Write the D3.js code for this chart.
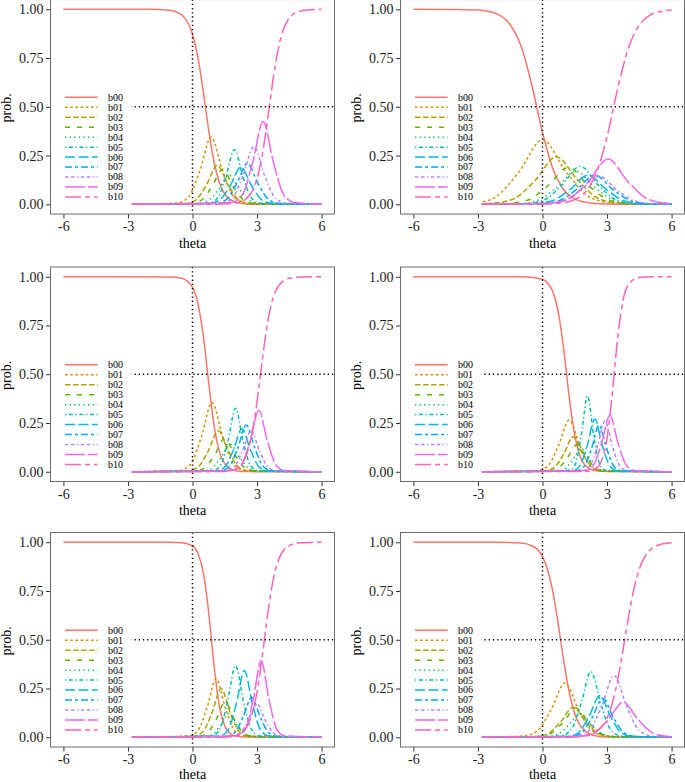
<!DOCTYPE html>
<html lang="en">
<head>
<meta charset="utf-8">
<title>Category response curves</title>
<script src="https://cdn.jsdelivr.net/npm/d3@7/dist/d3.min.js"></script>
<style>
  body { margin: 0; background: #fff; }
  text { font-family: "Liberation Serif", "Times New Roman", Times, serif; }
</style>
</head>
<body>
<script>

// categories, colours (ggplot hue palette) and line types
var categories = ["b00", "b01", "b02", "b03", "b04", "b05", "b06", "b07", "b08", "b09", "b10"];
var colors = ["#F8766D", "#DB8E00", "#AEA200", "#64B200", "#00BD5C", "#00C1A7",
              "#00BADE", "#00A6FF", "#B385FF", "#EF67EB", "#FF63B6"];
var dashes = [null, "2.6,2.6", "5.5,2.5", "5,7", "1.3,3.3", "1.3,2.6,4,2.6",
              "10,3.5", "7,3,3,3", "3.5,2.5,3.5,2.5,1.3,2.5", "20,3", "16,4,5,4"];

var xTicks = [-6, -3, 0, 3, 6];
var yTicks = [0, 0.25, 0.5, 0.75, 1];

// [theta, prob], one array per category b00..b10
var panel1 = [
  [[-6,1],[-2,1],[-1,0.994],[-0.5,0.971],[0,0.872],[0.25,0.754],[0.5,0.579],[0.75,0.382],[1,0.217],[1.25,0.111],[1.5,0.053],[2,0.011],[2.5,0.002],[3,0],[6,0]],
  [[-3,0],[-0.705,0.007],[-0.18,0.038],[0.345,0.173],[0.87,0.345],[1.395,0.173],[1.92,0.038],[2.445,0.007],[6,0]],
  [[-3,0],[-0.35,0.004],[0.15,0.022],[0.65,0.1],[1.15,0.2],[1.65,0.1],[2.15,0.022],[2.65,0.004],[6,0]],
  [[-3,0],[-0.1,0.004],[0.4,0.02],[0.9,0.09],[1.4,0.18],[1.9,0.09],[2.4,0.02],[2.9,0.004],[6,0]],
  [[-3,0],[0.2,0.003],[0.7,0.017],[1.2,0.075],[1.7,0.15],[2.2,0.075],[2.7,0.017],[3.2,0.003],[6,0]],
  [[-3,0],[0.75,0.006],[1.15,0.031],[1.55,0.14],[1.95,0.28],[2.35,0.14],[2.75,0.031],[3.15,0.006],[6,0]],
  [[-3,0],[0.75,0.004],[1.25,0.021],[1.75,0.095],[2.25,0.19],[2.75,0.095],[3.25,0.021],[3.75,0.004],[6,0]],
  [[-3,0],[1.05,0.004],[1.55,0.023],[2.05,0.105],[2.55,0.21],[3.05,0.105],[3.55,0.023],[4.05,0.004],[6,0]],
  [[-3,0],[1.35,0.006],[1.85,0.032],[2.35,0.148],[2.85,0.295],[3.35,0.148],[3.85,0.032],[4.35,0.006],[6,0]],
  [[-3,0],[1.825,0.009],[2.31,0.047],[2.795,0.213],[3.28,0.425],[3.765,0.213],[4.25,0.047],[4.735,0.009],[6,0]],
  [[-3,0],[1,0.0002],[2,0.0056],[2.5,0.0285],[2.75,0.0625],[3,0.132],[3.25,0.258],[3.5,0.443],[3.75,0.644],[4,0.805],[4.25,0.904],[4.5,0.956],[5,0.991],[5.5,0.998],[6,0.9997]]
];

var panel2 = [
  [[-6,1],[-4,0.9994],[-3,0.9958],[-2.5,0.9886],[-2,0.97],[-1.5,0.921],[-1,0.812],[-0.5,0.613],[0,0.368],[0.5,0.177],[1,0.073],[1.5,0.028],[2,0.0106],[3,0.0014],[4,0.0002],[6,0]],
  [[-3,0.008],[-2.2,0.036],[-1.1,0.165],[0,0.33],[1.1,0.165],[2.2,0.036],[3.3,0.007],[6,0]],
  [[-3,0.002],[-2.35,0.005],[-1.35,0.027],[-0.35,0.122],[0.65,0.244],[1.65,0.122],[2.65,0.027],[3.65,0.005],[6,0]],
  [[-3,0],[-1.65,0.004],[-0.7,0.021],[0.25,0.095],[1.2,0.19],[2.15,0.095],[3.1,0.021],[4.05,0.004],[6,0]],
  [[-3,0],[-1.15,0.003],[-0.25,0.019],[0.65,0.085],[1.55,0.17],[2.45,0.085],[3.35,0.019],[4.25,0.003],[6,0]],
  [[-3,0],[-0.8,0.004],[0.05,0.021],[0.9,0.098],[1.75,0.195],[2.6,0.098],[3.45,0.021],[4.3,0.004],[6,0]],
  [[-3,0],[-0.43,0.003],[0.42,0.017],[1.27,0.075],[2.12,0.15],[2.97,0.075],[3.82,0.017],[4.67,0.003],[6,0]],
  [[-3,0],[-0.12,0.003],[0.73,0.017],[1.58,0.075],[2.43,0.15],[3.28,0.075],[4.13,0.017],[4.98,0.003],[6,0]],
  [[-3,0],[0.07,0.003],[0.92,0.016],[1.77,0.073],[2.62,0.145],[3.47,0.073],[4.32,0.016],[5.17,0.003],[6,0]],
  [[-3,0],[0.275,0.005],[1.2,0.026],[2.125,0.116],[3.05,0.232],[3.975,0.116],[4.9,0.026],[5.825,0.005],[6,0.004]],
  [[-3,0],[0,0.001],[1,0.009],[1.5,0.024],[2,0.064],[2.5,0.16],[3,0.346],[3.5,0.596],[4,0.804],[4.5,0.92],[5,0.97],[5.5,0.989],[6,0.996]]
];

var panel3 = [
  [[-6,1],[-1,0.9989],[-0.5,0.992],[0,0.945],[0.25,0.863],[0.5,0.698],[0.75,0.46],[1,0.239],[1.25,0.103],[1.5,0.041],[2,0.0057],[2.5,0.0008],[3,0.0001],[6,0]],
  [[-3,0],[-0.59,0.007],[-0.09,0.039],[0.41,0.178],[0.91,0.355],[1.41,0.178],[1.91,0.039],[2.41,0.007],[6,0]],
  [[-3,0],[-0.225,0.004],[0.25,0.023],[0.725,0.105],[1.2,0.21],[1.675,0.105],[2.15,0.023],[2.625,0.004],[6,0]],
  [[-3,0],[0.075,0.003],[0.55,0.019],[1.025,0.085],[1.5,0.17],[1.975,0.085],[2.45,0.019],[2.925,0.003],[6,0]],
  [[-3,0],[0.4,0.003],[0.85,0.015],[1.3,0.07],[1.75,0.14],[2.2,0.07],[2.65,0.015],[3.1,0.003],[6,0]],
  [[-3,0],[0.98,0.007],[1.32,0.036],[1.66,0.163],[2,0.326],[2.34,0.163],[2.68,0.036],[3.02,0.007],[6,0]],
  [[-3,0],[1.1,0.004],[1.5,0.024],[1.9,0.11],[2.3,0.22],[2.7,0.11],[3.1,0.024],[3.5,0.004],[6,0]],
  [[-3,0],[1.3,0.005],[1.7,0.026],[2.1,0.12],[2.5,0.24],[2.9,0.12],[3.3,0.026],[3.7,0.005],[6,0]],
  [[-3,0],[1.52,0.004],[1.92,0.023],[2.32,0.105],[2.72,0.21],[3.12,0.105],[3.52,0.023],[3.92,0.004],[6,0]],
  [[-3,0],[1.88,0.006],[2.28,0.035],[2.68,0.158],[3.08,0.315],[3.48,0.158],[3.88,0.035],[4.28,0.006],[6,0]],
  [[-3,0],[1,0.0004],[1.5,0.0025],[2,0.015],[2.5,0.085],[2.75,0.186],[3,0.359],[3.25,0.58],[3.5,0.772],[3.75,0.893],[4,0.954],[4.5,0.992],[5,0.9987],[6,1]]
];

var panel4 = [
  [[-6,1],[-1,0.9997],[0,0.9875],[0.25,0.967],[0.5,0.918],[0.75,0.808],[1,0.615],[1.25,0.376],[1.5,0.185],[1.75,0.079],[2,0.031],[2.5,0.0046],[3,0.0007],[6,0]],
  [[-3,0],[-0.26,0.005],[0.24,0.029],[0.74,0.133],[1.24,0.266],[1.74,0.133],[2.24,0.029],[2.74,0.005],[6,0]],
  [[-3,0],[0.08,0.004],[0.53,0.02],[0.98,0.09],[1.43,0.18],[1.88,0.09],[2.33,0.02],[2.78,0.004],[6,0]],
  [[-3,0],[0.25,0.003],[0.7,0.015],[1.15,0.07],[1.6,0.14],[2.05,0.07],[2.5,0.015],[2.95,0.003],[6,0]],
  [[-3,0],[0.6,0.002],[1,0.013],[1.4,0.06],[1.8,0.12],[2.2,0.06],[2.6,0.013],[3,0.002],[6,0]],
  [[-3,0],[1.265,0.008],[1.54,0.043],[1.815,0.195],[2.09,0.389],[2.365,0.195],[2.64,0.043],[2.915,0.008],[6,0]],
  [[-3,0],[1.38,0.005],[1.73,0.03],[2.08,0.135],[2.43,0.27],[2.78,0.135],[3.13,0.03],[3.48,0.005],[6,0]],
  [[-3,0],[1.58,0.005],[1.93,0.026],[2.28,0.12],[2.63,0.24],[2.98,0.12],[3.33,0.026],[3.68,0.005],[6,0]],
  [[-3,0],[1.85,0.005],[2.2,0.029],[2.55,0.13],[2.9,0.26],[3.25,0.13],[3.6,0.029],[3.95,0.005],[6,0]],
  [[-3,0],[1.975,0.006],[2.36,0.032],[2.745,0.145],[3.13,0.29],[3.515,0.145],[3.9,0.032],[4.285,0.006],[6,0]],
  [[-3,0],[2,0.0017],[2.5,0.018],[2.75,0.058],[3,0.171],[3.25,0.406],[3.5,0.694],[3.75,0.883],[4,0.962],[4.5,0.9964],[5,0.9997],[6,1]]
];

var panel5 = [
  [[-6,1],[-1,0.9998],[-0.5,0.998],[0,0.981],[0.25,0.944],[0.5,0.847],[0.75,0.642],[1,0.368],[1.25,0.159],[1.5,0.058],[1.75,0.0196],[2,0.0064],[2.5,0.0007],[3,0.0001],[6,0]],
  [[-3,0],[-0.19,0.006],[0.24,0.033],[0.67,0.15],[1.1,0.3],[1.53,0.15],[1.96,0.033],[2.39,0.006],[6,0]],
  [[-3,0],[0.055,0.005],[0.48,0.028],[0.905,0.125],[1.33,0.25],[1.755,0.125],[2.18,0.028],[2.605,0.005],[6,0]],
  [[-3,0],[0.245,0.004],[0.67,0.02],[1.095,0.09],[1.52,0.18],[1.945,0.09],[2.37,0.02],[2.795,0.004],[6,0]],
  [[-3,0],[0.5,0.002],[0.9,0.013],[1.3,0.06],[1.7,0.12],[2.1,0.06],[2.5,0.013],[2.9,0.002],[6,0]],
  [[-3,0],[0.89,0.007],[1.26,0.04],[1.63,0.184],[2,0.367],[2.37,0.184],[2.74,0.04],[3.11,0.007],[6,0]],
  [[-3,0],[1.285,0.007],[1.66,0.038],[2.035,0.171],[2.41,0.342],[2.785,0.171],[3.16,0.038],[3.535,0.007],[6,0]],
  [[-3,0],[1.55,0.004],[1.95,0.023],[2.35,0.103],[2.75,0.205],[3.15,0.103],[3.55,0.023],[3.95,0.004],[6,0]],
  [[-3,0],[1.79,0.003],[2.19,0.019],[2.59,0.085],[2.99,0.17],[3.39,0.085],[3.79,0.019],[4.19,0.003],[6,0]],
  [[-3,0],[2.11,0.008],[2.47,0.043],[2.83,0.197],[3.19,0.393],[3.55,0.197],[3.91,0.043],[4.27,0.008],[6,0]],
  [[-3,0],[1,0.0003],[1.5,0.0016],[2,0.0091],[2.5,0.05],[2.75,0.113],[3,0.233],[3.25,0.422],[3.5,0.636],[3.75,0.808],[4,0.91],[4.5,0.983],[5,0.997],[6,1]]
];

var panel6 = [
  [[-6,1],[-2,0.9998],[-1,0.996],[-0.5,0.982],[0,0.926],[0.25,0.854],[0.5,0.735],[0.75,0.567],[1,0.382],[1.25,0.226],[1.5,0.121],[2,0.03],[2.5,0.0068],[3,0.0015],[6,0]],
  [[-3,0],[-0.91,0.006],[-0.26,0.031],[0.39,0.139],[1.04,0.278],[1.69,0.139],[2.34,0.031],[2.99,0.006],[6,0]],
  [[-3,0],[-0.37,0.003],[0.23,0.017],[0.83,0.077],[1.43,0.154],[2.03,0.077],[2.63,0.017],[3.23,0.003],[6,0]],
  [[-3,0],[-0.25,0.003],[0.35,0.017],[0.95,0.075],[1.55,0.15],[2.15,0.075],[2.75,0.017],[3.35,0.003],[6,0]],
  [[-3,0],[0.1,0.002],[0.65,0.013],[1.2,0.06],[1.75,0.12],[2.3,0.06],[2.85,0.013],[3.4,0.002],[6,0]],
  [[-3,0],[0.855,0.007],[1.32,0.037],[1.785,0.169],[2.25,0.337],[2.715,0.169],[3.18,0.037],[3.645,0.007],[6,0]],
  [[-3,0],[1.16,0.004],[1.66,0.023],[2.16,0.107],[2.66,0.213],[3.16,0.107],[3.66,0.023],[4.16,0.004],[6,0]],
  [[-3,0],[1.3,0.004],[1.8,0.022],[2.3,0.1],[2.8,0.2],[3.3,0.1],[3.8,0.022],[4.3,0.004],[6,0]],
  [[-3,0],[1.59,0.006],[2.17,0.035],[2.75,0.158],[3.33,0.316],[3.91,0.158],[4.49,0.035],[5.07,0.006],[6,0]],
  [[-3,0],[1.65,0.004],[2.35,0.02],[3.05,0.09],[3.75,0.18],[4.45,0.09],[5.15,0.02],[5.85,0.004],[6,0.003]],
  [[-3,0],[1,0.0005],[1.5,0.0019],[2,0.0073],[2.5,0.0275],[3,0.098],[3.25,0.177],[3.5,0.297],[3.75,0.453],[4,0.619],[4.25,0.761],[4.5,0.862],[5,0.96],[5.5,0.9894],[6,0.9972]]
];

var panels = [panel1, panel2, panel3, panel4, panel5, panel6];

// layout
var w = 685, h = 782;
var pw = 284, ph = 214.5;
var colLeft = [50.5, 400.5];
var rowTop = [-0.45, 267, 532.5];
var lw = 1.5;

var svg = d3.select("body")
  .append("svg")
  .attr("width", w)
  .attr("height", h);

var xScale = d3.scaleLinear().domain([-6.6, 6.6]).range([0, pw]);
var yScale = d3.scaleLinear().domain([-0.05, 1.05]).range([ph, 0]);

var line = d3.line()
  .x(function(d) { return xScale(d[0]); })
  .y(function(d) { return yScale(d[1]); })
  .curve(d3.curveMonotoneX);

panels.forEach(function(curves, i) {
  var top = rowTop[Math.floor(i / 2)];
  var g = svg.append("g")
    .attr("transform", "translate(" + colLeft[i % 2] + "," + top + ")");

  // curves
  g.selectAll("path.curve")
    .data(curves)
    .enter()
    .append("path")
    .attr("class", "curve")
    .attr("d", line)
    .attr("fill", "none")
    .attr("stroke", function(d, k) { return colors[k]; })
    .attr("stroke-width", lw)
    .attr("stroke-dasharray", function(d, k) { return dashes[k]; });

  // reference lines
  g.append("line")
    .attr("x1", 0).attr("x2", pw)
    .attr("y1", yScale(0.5)).attr("y2", yScale(0.5))
    .attr("stroke", "#000").attr("stroke-width", lw)
    .attr("stroke-dasharray", "1.3,2.9");
  g.append("line")
    .attr("x1", xScale(0)).attr("x2", xScale(0))
    .attr("y1", 0).attr("y2", ph)
    .attr("stroke", "#000").attr("stroke-width", lw)
    .attr("stroke-dasharray", "1.3,2.9");

  // legend inside panel
  var leg = g.append("g");
  leg.append("rect")
    .attr("x", 0.5).attr("y", 86)
    .attr("width", 80.5).attr("height", 123)
    .attr("fill", "#fff");
  var keys = leg.selectAll("g.key")
    .data(categories)
    .enter()
    .append("g")
    .attr("class", "key")
    .attr("transform", function(d, k) { return "translate(0," + (97.75 + 9.97 * k) + ")"; });
  keys.append("line")
    .attr("x1", 14.5).attr("x2", 47.2)
    .attr("stroke", function(d, k) { return colors[k]; })
    .attr("stroke-width", lw)
    .attr("stroke-dasharray", function(d, k) { return dashes[k]; });
  keys.append("text")
    .attr("x", 57.5).attr("y", 3.4)
    .attr("font-size", "10px")
    .attr("fill", "#000")
    .text(function(d) { return d; });

  // axes
  var xAxis = d3.axisBottom(xScale)
    .tickValues(xTicks)
    .tickFormat(function(d) { return String(d); })
    .tickSize(4.5)
    .tickPadding(3);
  var yAxis = d3.axisLeft(yScale)
    .tickValues(yTicks)
    .tickFormat(d3.format(".2f"))
    .tickSize(4.5)
    .tickPadding(2.5);

  var gx = g.append("g")
    .attr("transform", "translate(0," + ph + ")")
    .call(xAxis);
  var gy = g.append("g").call(yAxis);
  [gx, gy].forEach(function(a) {
    a.attr("font-family", null);
    a.select(".domain").remove();
    a.selectAll(".tick line").attr("stroke", "#333");
    a.selectAll(".tick text")
      .attr("font-size", "14px")
      .attr("fill", "#1a1a1a");
  });

  // axis titles (kept inside the 782px page on the last row)
  g.append("text")
    .attr("x", pw / 2).attr("y", Math.min(ph + 33.6, h - top - 3.4))
    .attr("text-anchor", "middle")
    .attr("font-size", "14px")
    .text("theta");
  g.append("text")
    .attr("transform", "translate(-40," + 108.4 + ") rotate(-90)")
    .attr("text-anchor", "middle")
    .attr("font-size", "14px")
    .text("prob.");

  // panel border
  g.append("rect")
    .attr("width", pw).attr("height", ph)
    .attr("fill", "none")
    .attr("stroke", "#6b6b6b")
    .attr("stroke-width", 1);
});

</script>
</body>
</html>
